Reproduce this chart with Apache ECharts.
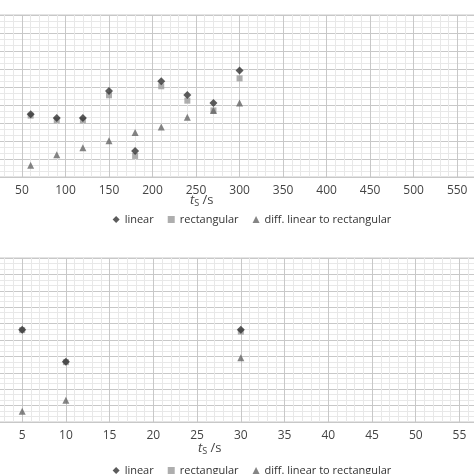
<!DOCTYPE html><html><head><meta charset="utf-8"><script src="https://cdn.jsdelivr.net/npm/echarts@6/dist/echarts.min.js"></script>
<style>html,body{margin:0;padding:0;background:#fff;overflow:hidden;width:474px;height:474px}#c{width:560px;height:474px;margin-left:-28px}</style></head><body><div id="c"></div><script>
const topX=[60,90,120,150,180,210,240,270,300];
const topLinear=[3.48,3.28,3.28,4.78,1.44,5.32,4.56,4.11,5.91];
const topRect=[3.41,3.15,3.15,4.54,1.17,5.04,4.24,3.70,5.48];
const topDiff=[0.65,1.24,1.63,2.02,2.47,2.78,3.32,3.70,4.11];
const botX=[5,10,30];
const botLinear=[5.62,3.67,5.62];
const botRect=[5.60,3.65,5.51];
const botDiff=[0.65,1.33,3.92];
const names=['linear','rectangular','diff. linear to rectangular'];
const pair=(xs,ys)=>xs.map((x,i)=>[x,ys[i]]);
const ax=(gi,max,intv)=>({gridIndex:gi,type:'value',min:0,max:max,interval:intv,
 axisLine:{show:false},axisTick:{show:false},
 axisLabel:{color:'#444',fontSize:12,fontFamily:'Open Sans',margin:8},
 splitLine:{lineStyle:{color:'#c8c8c8'}},minorTick:{show:false,splitNumber:5},
 minorSplitLine:{show:true,lineStyle:{color:'#e8e8e8'}}});
const ay=(gi,max)=>({gridIndex:gi,type:'value',min:0,max:max,interval:1,
 axisLine:{show:false},axisTick:{show:false},axisLabel:{show:false},
 splitLine:{lineStyle:{color:'#c8c8c8'}},minorTick:{show:false,splitNumber:3},
 minorSplitLine:{show:true,lineStyle:{color:'#e8e8e8'}}});
const sty={linear:{c:'#333',s:'diamond',z:8},rectangular:{c:'#9a9a9a',s:'rect',z:6},'diff. linear to rectangular':{c:'#666',s:'triangle',z:7}};
const ser=(n,gi,d)=>({name:n,type:'scatter',xAxisIndex:gi,yAxisIndex:gi,data:d,symbol:sty[n].s,symbolSize:sty[n].z,itemStyle:{color:sty[n].c},z:n==='linear'?4:3});
const leg=(top)=>({top:top,left:'center',itemWidth:7,itemHeight:7,itemGap:14,data:names.map(n=>({name:n,icon:sty[n].s})),textStyle:{color:'#333',fontSize:11,fontFamily:'Open Sans'}});
const title=(x,y)=>({type:'text',left:x,top:y,style:{rich:{i:{fontStyle:'italic',fontSize:13,fill:'#444',fontFamily:'Open Sans'},s:{fontSize:9,fill:'#444',padding:[6,0,0,0],fontFamily:'Open Sans'},n:{fontSize:13,fill:'#444',fontFamily:'Open Sans'}},text:'{i|t}{s|S}{n| /s}'}});
const chart=echarts.init(document.getElementById('c'));
chart.setOption({animation:false,
 grid:[{left:0.7,top:15,width:528,height:162,show:true,borderColor:'#c8c8c8'},{left:2.2,top:258,width:529,height:164,show:true,borderColor:'#c8c8c8'}],
 xAxis:[ax(0,600,50),ax(1,60,5)],
 yAxis:[ay(0,9),ay(1,10)],
 legend:[leg(209),leg(460)],
 graphic:[title(218,194),title(226,442)],
 series:[ser(names[0],0,pair(topX,topLinear)),ser(names[1],0,pair(topX,topRect)),ser(names[2],0,pair(topX,topDiff)),
  ser(names[0],1,pair(botX,botLinear)),ser(names[1],1,pair(botX,botRect)),ser(names[2],1,pair(botX,botDiff))]
});
</script></body></html>
